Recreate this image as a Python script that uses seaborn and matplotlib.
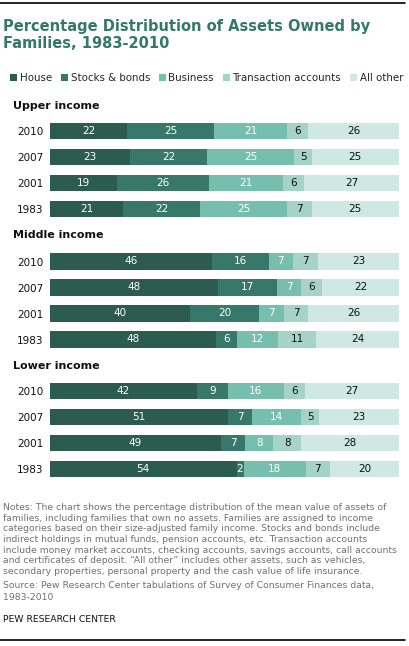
import matplotlib
matplotlib.use("Agg")
import matplotlib.pyplot as plt
from matplotlib.patches import Patch
from matplotlib.lines import Line2D
import seaborn as sns
import pandas as pd
import numpy as np

# ---------------- data ----------------
years = ["2010", "2007", "2001", "1983"]
categories = ["House", "Stocks & bonds", "Business", "Transaction accounts", "All other"]
groups = ["Upper income", "Middle income", "Lower income"]

upper_house = [22, 23, 19, 21]
upper_stocks = [25, 22, 26, 22]
upper_business = [21, 25, 21, 25]
upper_transaction = [6, 5, 6, 7]
upper_other = [26, 25, 27, 25]

middle_house = [46, 48, 40, 48]
middle_stocks = [16, 17, 20, 6]
middle_business = [7, 7, 7, 12]
middle_transaction = [7, 6, 7, 11]
middle_other = [23, 22, 26, 24]

lower_house = [42, 51, 49, 54]
lower_stocks = [9, 7, 7, 2]
lower_business = [16, 14, 8, 18]
lower_transaction = [6, 5, 8, 7]
lower_other = [27, 23, 28, 20]

colors = ["#2c5b4f", "#38786a", "#76bead", "#a5d4c7", "#cfe8e2"]
label_colors = ["white", "white", "white", "#111111", "#111111"]

series = {
    "Upper income": [upper_house, upper_stocks, upper_business, upper_transaction, upper_other],
    "Middle income": [middle_house, middle_stocks, middle_business, middle_transaction, middle_other],
    "Lower income": [lower_house, lower_stocks, lower_business, lower_transaction, lower_other],
}

rows = []
for g in groups:
    for ci, cat in enumerate(categories):
        for yi, yr in enumerate(years):
            rows.append({"group": g, "category": cat, "year": yr, "value": series[g][ci][yi]})
df = pd.DataFrame(rows)
df["total"] = df.groupby(["group", "year"])["value"].transform("sum")
df["width"] = df["value"] / df["total"] * 100
df["cat_idx"] = df["category"].map({c: i for i, c in enumerate(categories)})
df = df.sort_values(["group", "year", "cat_idx"])
df["end"] = df.groupby(["group", "year"])["width"].cumsum()
df["start"] = df["end"] - df["width"]

# ---------------- figure ----------------
sns.set_style("white")
plt.rcParams["font.family"] = ["DejaVu Sans"]
W, H = 410, 646
fig = plt.figure(figsize=(W / 100, H / 100), dpi=100)

def fy(px):
    return 1 - px / H

def fx(px):
    return px / W

# top & bottom rules
fig.add_artist(Line2D([0, fx(405)], [fy(3), fy(3)], color="black", lw=1.2))
fig.add_artist(Line2D([0, fx(405)], [fy(640), fy(640)], color="black", lw=1.2))

title_color = "#33786a"
fig.text(fx(3), fy(27), "Percentage Distribution of Assets Owned by", color=title_color,
         fontsize=10.5, fontweight="bold", va="center", ha="left")
fig.text(fx(3), fy(44), "Families, 1983-2010", color=title_color,
         fontsize=10.5, fontweight="bold", va="center", ha="left")

handles = [Patch(facecolor=c, edgecolor="none", label=l) for c, l in zip(colors, categories)]
fig.legend(handles=handles, loc="center left", bbox_to_anchor=(fx(10), fy(78)), ncol=5,
           frameon=False, fontsize=7.4, handlelength=0.7, handleheight=0.7,
           handletextpad=0.25, columnspacing=0.85, borderpad=0, borderaxespad=0)

header_y = {"Upper income": 106, "Middle income": 235, "Lower income": 366}
axes_top = {"Upper income": 118, "Middle income": 248.5, "Lower income": 378}

for g in groups:
    fig.text(fx(13), fy(header_y[g]), g, fontsize=8, fontweight="bold", va="center", ha="left",
             color="#111111")
    top = axes_top[g]
    ax = fig.add_axes([fx(50), fy(top + 104), fx(399) - fx(50), 104 / H])
    sub = df[df["group"] == g]
    for ci in range(len(categories) - 1, -1, -1):
        d = sub[sub["cat_idx"] == ci].set_index("year").loc[years].reset_index()
        sns.barplot(data=d, x="end", y="year", order=years, orient="h", color=colors[ci],
                    width=0.65, ax=ax, saturation=1, edgecolor="none", linewidth=0)
    for _, r in sub.iterrows():
        yi = years.index(r["year"])
        ax.text(r["start"] + r["width"] / 2, yi, str(int(r["value"])), ha="center", va="center",
                fontsize=7.5, color=label_colors[int(r["cat_idx"])])
    ax.set_xlim(0, 100)
    ax.set_ylim(3.5, -0.5)
    ax.set_xlabel("")
    ax.set_ylabel("")
    ax.set_xticks([])
    ax.tick_params(axis="y", length=0, pad=5, labelsize=7.5, labelcolor="#111111")
    sns.despine(ax=ax, left=True, bottom=True)

notes = [
    "Notes: The chart shows the percentage distribution of the mean value of assets of",
    "families, including families that own no assets. Families are assigned to income",
    "categories based on their size-adjusted family income. Stocks and bonds include",
    "indirect holdings in mutual funds, pension accounts, etc. Transaction accounts",
    "include money market accounts, checking accounts, savings accounts, call accounts",
    "and certificates of deposit. \u201cAll other\u201d includes other assets, such as vehicles,",
    "secondary properties, personal property and the cash value of life insurance.",
]
gray = "#707070"
for i, line in enumerate(notes):
    fig.text(fx(3), fy(507.3 + i * 10.73), line, fontsize=6.7, color=gray, va="center", ha="left")
fig.text(fx(3), fy(586), "Source: Pew Research Center tabulations of Survey of Consumer Finances data,",
         fontsize=6.7, color=gray, va="center", ha="left")
fig.text(fx(3), fy(597), "1983-2010", fontsize=6.7, color=gray, va="center", ha="left")
fig.text(fx(3), fy(619), "PEW RESEARCH CENTER", fontsize=6.7, color="#111111", va="center", ha="left")

fig.savefig("out.png", dpi=100)
